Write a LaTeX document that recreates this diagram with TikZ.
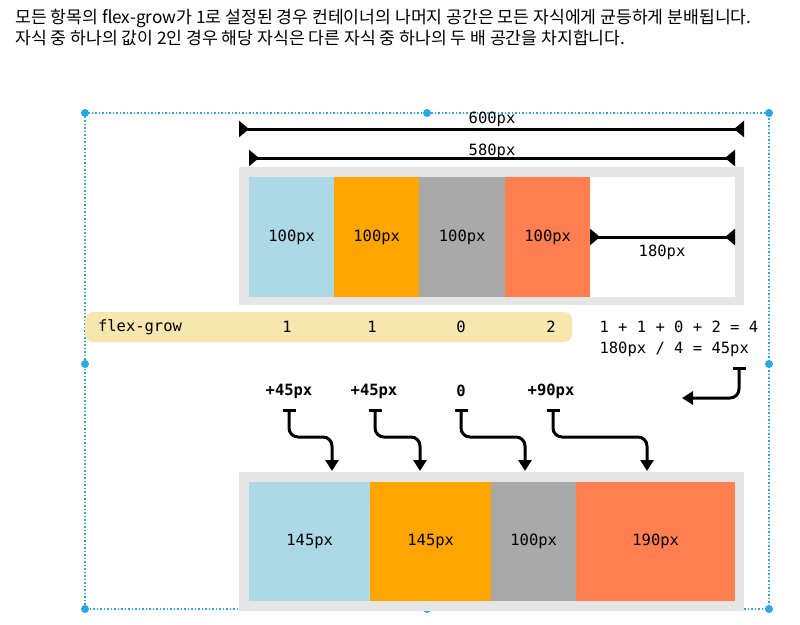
\documentclass[tikz,border=0pt]{standalone}
\usepackage{fontspec}
\setmainfont{Noto Sans CJK KR}
\setmonofont{DejaVu Sans Mono}
\usetikzlibrary{arrows.meta}
\definecolor{lb}{HTML}{ADD8E6}
\definecolor{og}{HTML}{FFA500}
\definecolor{gy}{HTML}{A9A9A9}
\definecolor{cr}{HTML}{FF7F50}
\definecolor{ct}{HTML}{E6E6E6}
\definecolor{yl}{HTML}{F7E6AE}
\definecolor{sel}{HTML}{29A8E8}
\begin{document}
\begin{tikzpicture}[x=1pt,y=-1pt,
  mono/.style={font=\fontsize{15.5}{18}\selectfont\ttfamily},
  monob/.style={font=\fontsize{15.5}{18}\selectfont\ttfamily\bfseries},
  box/.style={draw=none,inner sep=0,anchor=north west},
  dim/.style={line width=3pt,{Triangle[reversed,width=16pt,length=10pt]}-{Triangle[reversed,width=16pt,length=10pt]}},
  flow/.style={line width=3pt,rounded corners=9pt,{Bar[width=13pt]}-{Triangle[width=13pt,length=11pt]}},
  handle/.style={circle,fill=sel,inner sep=0,minimum size=8pt}]
\useasboundingbox (0,0) rectangle (800,624);
\fill[white] (0,0) rectangle (800,624);
\node[anchor=west,inner sep=0,font=\fontsize{17.2}{20}\selectfont] (h1) at (15,18) {모든 항목의 flex-grow가 1로 설정된 경우 컨테이너의 나머지 공간은 모든 자식에게 균등하게 분배됩니다.};
\node[anchor=west,inner sep=0,font=\fontsize{17.2}{20}\selectfont] (h2) at (15,38) {자식 중 하나의 값이 2인 경우 해당 자식은 다른 자식 중 하나의 두 배 공간을 차지합니다.};
% selection frame
\draw[sel,dash pattern=on 1.5pt off 2pt,line width=1.2pt] (85,113) rectangle (769,609);
\foreach \p in {(85,113),(427,113),(769,113),(85,364),(769,364),(85,609),(427,609),(769,609)} \node[handle] at \p {};
% dimensions
\coordinate (d1a) at (239,129); \coordinate (d1b) at (744,129);
\draw[dim] (d1a) -- (d1b);
\node[mono] (l600) at (492,119) {600px};
\coordinate (d2a) at (249,158); \coordinate (d2b) at (735,158);
\draw[dim] (d2a) -- (d2b);
\node[mono] (l580) at (492,151) {580px};
% top container
\fill[ct] (239,167) rectangle (744,305);
\fill[white] (590,177) rectangle (735,297);
\node[box,fill=lb,minimum width=85pt,minimum height=120pt] (t1) at (249,177) {};
\node[box,fill=og,minimum width=85pt,minimum height=120pt] (t2) at (334,177) {};
\node[box,fill=gy,minimum width=86pt,minimum height=120pt] (t3) at (419,177) {};
\node[box,fill=cr,minimum width=85pt,minimum height=120pt] (t4) at (505,177) {};
\foreach \n in {t1,t2,t3,t4} \node[mono] at (\n.center) {100px};
\coordinate (r1) at (590,237); \coordinate (r2) at (735,237);
\draw[dim] (r1) -- (r2);
\node[mono] (l180) at (662,252) {180px};
% flex-grow band
\fill[yl,rounded corners=8pt] (85,312) rectangle (572,342);
\node[mono] (fg) at (140,327) {flex-grow};
\node[mono] (g1) at (287,327) {1};
\node[mono] (g2) at (372,327) {1};
\node[mono] (g3) at (461,327) {0};
\node[mono] (g4) at (551,327) {2};
\node[mono,anchor=west] (e1) at (596,327) {1 + 1 + 0 + 2 = 4};
\node[mono,anchor=west] (e2) at (596,349) {180px / 4 = 45px};
\coordinate (c0) at (739,367); \coordinate (c1) at (682,398);
\draw[flow] (c0) -- (739,398) -- (c1);
% increments
\node[monob] (p1) at (289,391) {+45px};
\node[monob] (p2) at (374,391) {+45px};
\node[monob] (p3) at (461,391) {0};
\node[monob] (p4) at (551,391) {+90px};
\foreach \a/\b/\n in {289/332/1,375/420/2,461/525/3,553/647/4}{
  \coordinate (s\n) at (\a,409); \coordinate (e\n) at (\b,471);
  \draw[flow] (s\n) -- (\a,437) -- (\b,437) -- (e\n);
}
% bottom container
\fill[ct] (239,472) rectangle (744,611);
\node[box,fill=lb,minimum width=121pt,minimum height=119pt] (b1) at (249,482) {};
\node[box,fill=og,minimum width=121pt,minimum height=119pt] (b2) at (370,482) {};
\node[box,fill=gy,minimum width=85pt,minimum height=119pt] (b3) at (491,482) {};
\node[box,fill=cr,minimum width=159pt,minimum height=119pt] (b4) at (576,482) {};
\node[mono] at (b1.center) {145px};
\node[mono] at (b2.center) {145px};
\node[mono] at (b3.center) {100px};
\node[mono] at (b4.center) {190px};
\end{tikzpicture}
\end{document}
